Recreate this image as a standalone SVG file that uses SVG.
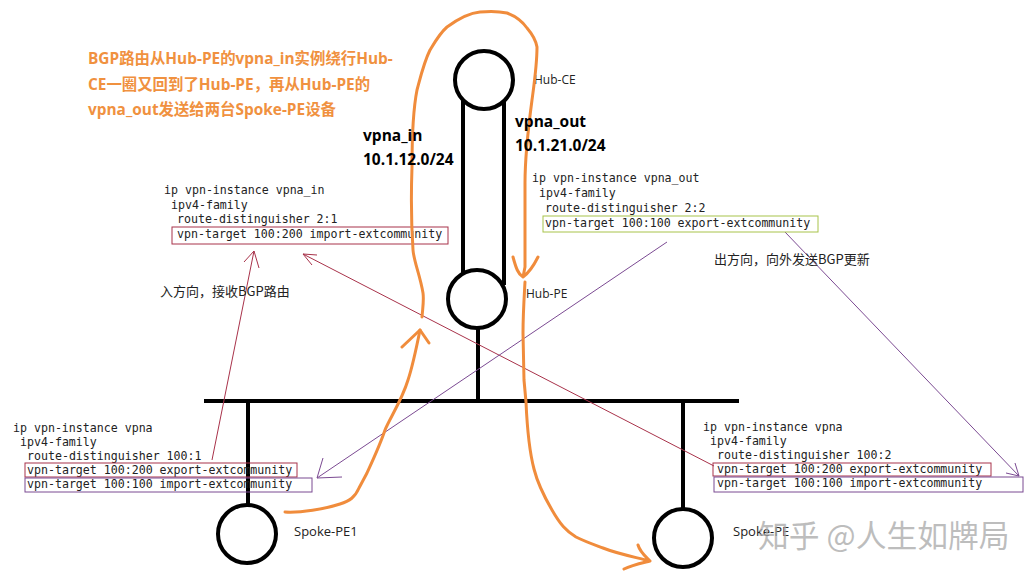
<svg xmlns="http://www.w3.org/2000/svg" width="1036" height="580" viewBox="0 0 1036 580">
<style>
.node{fill:#fff;stroke:#000;stroke-width:4}
.wire{fill:none;stroke:#000;stroke-width:4}
.mono{font:11.6px "DejaVu Sans Mono",monospace;fill:#222}
.lab{font:12px "Open Sans",sans-serif;fill:#222}
.lab2{font:13px "Open Sans",sans-serif;fill:#222}
.cn{font:13px "Noto Sans CJK SC",sans-serif;fill:#222}
.b{font:bold 15.5px "Open Sans",sans-serif;fill:#000}
.t{font:bold 15.4px "Open Sans","Noto Sans CJK SC",sans-serif;fill:#f0913f}
.o{fill:none;stroke:#f08c3c;stroke-width:3;stroke-linecap:round;stroke-linejoin:round}
.r{fill:none;stroke:#a8324a;stroke-width:1}
.p{fill:none;stroke:#7b4a92;stroke-width:1}
.g{fill:none;stroke:#a8c34a;stroke-width:1}
</style>
<g id="connectors">
<path class="wire" d="M463 95V275M504 100V285M478 328V401M204 401H739M248 401V506M683 401V510"/>
<path class="r" d="M212 460L254 251M244 262L254 251L259 268M714 466L303 254M312 265L303 254L317 255"/>
<path class="p" d="M667 242L317 478M323 458L317 478L342 477M785 232L1019 476M1015 463L1019 476L1006 473"/>
</g>
<g id="hub-ce"><circle class="node" cx="484" cy="80" r="29"/><text class="lab" x="534" y="84">Hub-CE</text></g>
<g id="hub-pe"><circle class="node" cx="477" cy="299" r="29"/><text class="lab" x="526" y="298">Hub-PE</text></g>
<g id="spoke-pe1"><circle class="node" cx="247" cy="534" r="29"/><text class="lab2" x="294" y="536">Spoke-PE1</text></g>
<g id="spoke-pe2"><circle class="node" cx="683" cy="538" r="29"/><text class="lab2" x="733" y="536">Spoke-PE</text></g>
<g id="vpna-in-config">
<text class="mono" x="164" y="194">ip vpn-instance vpna_in</text>
<text class="mono" x="171" y="209">ipv4-family</text>
<text class="mono" x="177" y="223">route-distinguisher 2:1</text>
<text class="mono" x="177" y="238">vpn-target 100:200 import-extcommunity</text>
<rect class="r" x="172" y="227" width="276" height="17"/>
</g>
<g id="vpna-out-config">
<text class="mono" x="532" y="182">ip vpn-instance vpna_out</text>
<text class="mono" x="539" y="197">ipv4-family</text>
<text class="mono" x="545" y="212">route-distinguisher 2:2</text>
<text class="mono" x="545" y="227">vpn-target 100:100 export-extcommunity</text>
<rect class="g" x="543" y="216" width="275" height="16"/>
</g>
<g id="spoke1-config">
<text class="mono" x="13" y="432">ip vpn-instance vpna</text>
<text class="mono" x="20" y="446">ipv4-family</text>
<text class="mono" x="27" y="460">route-distinguisher 100:1</text>
<text class="mono" x="27" y="474">vpn-target 100:200 export-extcommunity</text>
<text class="mono" x="27" y="488">vpn-target 100:100 import-extcommunity</text>
<rect class="r" x="25" y="463" width="272" height="14"/>
<rect class="p" x="25" y="478" width="287" height="14"/>
</g>
<g id="spoke2-config">
<text class="mono" x="703" y="431">ip vpn-instance vpna</text>
<text class="mono" x="710" y="445">ipv4-family</text>
<text class="mono" x="717" y="459">route-distinguisher 100:2</text>
<text class="mono" x="717" y="473">vpn-target 100:200 export-extcommunity</text>
<text class="mono" x="717" y="487">vpn-target 100:100 import-extcommunity</text>
<rect class="r" x="713" y="463" width="278" height="13"/>
<rect class="p" x="714" y="477" width="309" height="15"/>
</g>
<text class="cn" x="160" y="296">入方向，接收BGP路由</text>
<text class="cn" x="714" y="264">出方向，向外发送BGP更新</text>
<text class="t" x="88" y="64">BGP路由从Hub-PE的vpna_in实例绕行Hub-</text>
<text class="t" x="88" y="90">CE一圈又回到了Hub-PE，再从Hub-PE的</text>
<text class="t" x="88" y="115">vpna_out发送给两台Spoke-PE设备</text>
<g id="flow">
<path class="o" d="M285 512C300 513 325 509 340 504C350 501 355 497 359 488L367 473C372 462 380 445 385 430C390 418 402 400 408 380C413 365 416 350 420 330"/>
<path class="o" d="M402 347L420 330L429 343M422 317C423 305 424 300 423 293C420 275 414 262 413 250C411 220 411 195 412 167C412 135 413 110 417 90C421 75 424 62 430 50C436 40 440 33 447 27C458 19 468 13 480 12C490 11 498 11 507 13C515 16 522 21 527 28C533 35 536 41 537 47C537 65 534 85 532 100C528 130 525 160 525 183C525 210 525 240 525 267L523 277M513 257C516 268 518 274 523 277C530 272 534 265 538 257"/>
<path class="o" d="M525 282C524 300 523 315 523 333L524 380L526 402C527 425 529 450 534 469C538 485 545 498 552 510C560 524 566 531 576 537C586 542 595 545 603 548C618 554 635 557 650 561M638 545C640 552 645 556 650 561C642 563 632 565 624 569"/>
</g>
<text class="b" x="363" y="141">vpna_in</text>
<text class="b" x="363" y="165">10.1.12.0/24</text>
<text class="b" x="515" y="127">vpna_out</text>
<text class="b" x="515" y="151">10.1.21.0/24</text>
<text x="758" y="547" font-family="Noto Sans CJK SC, sans-serif" font-size="30.8" fill="#a8a8a8" fill-opacity=".75">知乎 @人生如牌局</text>
</svg>
